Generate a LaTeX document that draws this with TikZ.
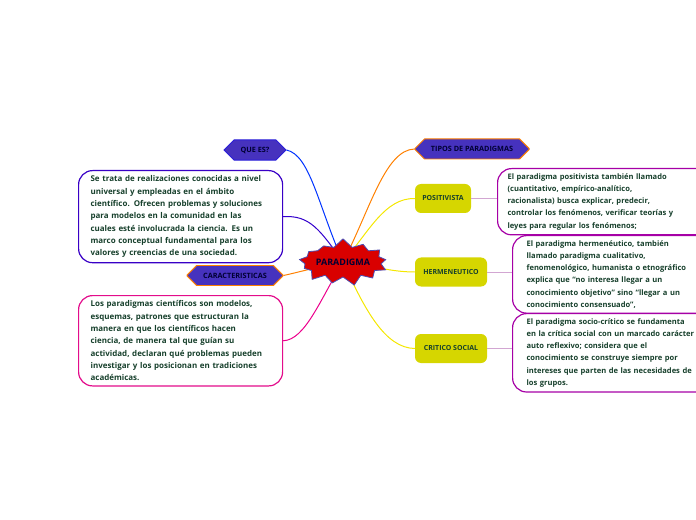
\documentclass[tikz,border=0pt]{standalone}
\usepackage{fontspec}
\setmainfont{Open Sans}
\usetikzlibrary{shapes.misc,shapes.symbols}
\definecolor{txt}{HTML}{17402C}
\definecolor{hexblue}{HTML}{4632BE}
\definecolor{ylw}{HTML}{D6D600}
\tikzset{
 every node/.style={font=\bfseries\fontsize{8}{12.4}\selectfont, text=txt},
 hexa/.style={chamfered rectangle, chamfered rectangle xsep=2cm, chamfered rectangle angle=45, chamfered rectangle corners={north west,south west,north east,south east}, fill=hexblue, draw=#1, line width=1pt, text=black!80!blue, minimum height=20bp, inner xsep=10bp, font=\bfseries\fontsize{7.3}{8}\selectfont},
 ybox/.style={rounded corners=6bp, fill=ylw, minimum height=29bp, text=txt, font=\bfseries\fontsize{7}{8}\selectfont},
 tbox/.style={draw=#1, rounded corners=14bp, line width=1.2pt, fill=white, align=left, anchor=north west, inner xsep=12bp, inner ysep=5bp},
 rbox/.style={tbox={violet!70!magenta}, font=\bfseries\fontsize{7.6}{12.2}\selectfont, text width=230bp},
 con/.style={line width=1pt, draw=#1},
}
\begin{document}
\begin{tikzpicture}[x=1bp,y=-1bp]
\useasboundingbox (0,0) rectangle (696,520);
\coordinate (c) at (343,262);
\node[hexa=hexblue!60!blue, minimum width=54bp] (que) at (255,150) {QUE ES?};
\node[hexa=orange, minimum width=92bp] (car) at (235,275.5) {CARACTERISTICAS};
\node[hexa=orange, minimum width=112bp] (tip) at (472,149) {TIPOS DE PARADIGMAS};
\node[ybox, minimum width=56bp] (pos) at (443,198.5) {POSITIVISTA};
\node[ybox, minimum width=72bp] (her) at (451,272) {HERMENEUTICO};
\node[ybox, minimum width=72bp] (cri) at (451,348.5) {CRITICO SOCIAL};
\node[tbox={blue!55!violet}, text width=180bp, minimum height=87bp] (b1) at (78,170) {Se trata de realizaciones conocidas a nivel\\ universal y empleadas en el ámbito\\ científico. Ofrecen problemas y soluciones\\ para modelos en la comunidad en las\\ cuales esté involucrada la ciencia. Es un\\ marco conceptual fundamental para los\\ valores y creencias de una sociedad.};
\node[tbox={magenta!90!violet}, text width=180bp, minimum height=88bp] (b2) at (78,295) {Los paradigmas científicos son modelos,\\ esquemas, patrones que estructuran la\\ manera en que los científicos hacen\\ ciencia, de manera tal que guían su\\ actividad, declaran qué problemas pueden\\ investigar y los posicionan en tradiciones\\ académicas.};
\node[rbox, minimum height=61bp, inner xsep=10bp] (bp) at (497,168) {El paradigma positivista también llamado\\ (cuantitativo, empírico-analítico,\\ racionalista) busca explicar, predecir,\\ controlar los fenómenos, verificar teorías y\\ leyes para regular los fenómenos;};
\node[rbox, minimum height=71bp, inner xsep=14bp] (bh) at (512,235) {El paradigma hermenéutico, también\\ llamado paradigma cualitativo,\\ fenomenológico, humanista o etnográfico\\ explica que “no interesa llegar a un\\ conocimiento objetivo” sino “llegar a un\\ conocimiento consensuado”,};
\node[rbox, minimum height=72bp, inner xsep=14bp] (bc) at (512,313) {El paradigma socio-crítico se fundamenta\\ en la crítica social con un marcado carácter\\ auto reflexivo; considera que el\\ conocimiento se construye siempre por\\ intereses que parten de las necesidades de\\ los grupos.};
\draw[con={blue!80!cyan}] (que.east) .. controls (310,155) and (318,205) .. (c);
\draw[con={blue!60!violet}] (b1.east) .. controls (310,215) and (320,230) .. (c);
\draw[con=orange] (car.east) .. controls (300,272) and (320,266) .. (c);
\draw[con=magenta] (b2.east) .. controls (305,340) and (320,300) .. (c);
\draw[con=orange] (c) .. controls (370,210) and (385,150) .. (tip.west);
\draw[con=yellow!90!olive] (c) .. controls (370,230) and (385,198) .. (pos.west);
\draw[con=yellow!90!olive] (c) .. controls (370,265) and (390,272) .. (her.west);
\draw[con=yellow!90!olive] (c) .. controls (365,310) and (385,348) .. (cri.west);
\draw[con={violet!35}] (pos.east) -- (bp.west|-pos.east);
\draw[con={violet!35}] (her.east) -- (bh.west|-her.east);
\draw[con={violet!35}] (cri.east) -- (bc.west|-cri.east);
\node[starburst, starburst points=13, starburst point height=9bp, random starburst=7, fill=red!85!black, draw=blue!40!gray, line width=0.8pt, minimum width=78bp, minimum height=48bp, inner sep=0pt, text=blue!20!black, font=\bfseries\fontsize{9}{10}\selectfont] (p) at (c) {PARADIGMA};
\end{tikzpicture}
\end{document}
